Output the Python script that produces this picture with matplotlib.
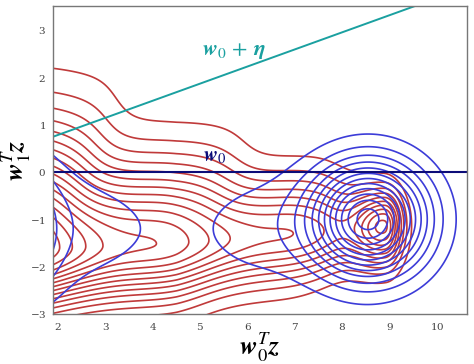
import numpy as np
import matplotlib
matplotlib.use('Agg')
import matplotlib.pyplot as plt

plt.rcParams.update({
    'mathtext.fontset': 'cm',
    'axes.formatter.use_mathtext': True,
    'font.family': 'serif',
})

# red density = ridge profile D(x) times a split gaussian across the ridge,
# whose widths step down from left to right
RED_RIDGE_MX = [1.0, 4.6, 7.4, 8.9]
RED_RIDGE_SXL = [1.7, 1.2, 1.0, 0.45]
RED_RIDGE_SXR = [1.7, 1.5, 0.8, 0.25]
RED_RIDGE_AMP = [18.1, 9.3, 5.8, 9.1]
RED_MY_X = [1.9, 4.5, 7.0, 8.9, 10.0]
RED_MY_Y = [-1.6, -1.5, -1.3, -1.15, -1.1]
RED_BREAKS = [3.55, 6.1, 8.1]
RED_DREF = [3.8, 2.4, 1.2]     # distance above ridge where each break sits at RED_BREAKS
RED_TILT = 0.45
RED_SU = [1.6, 1.15, 0.8, 0.5]
RED_SD = [0.85, 0.8, 0.68, 0.55]
RED_LEVELS = list(range(1, 17))

# blue: main mode, its tail, and a mass off to the left
BLUE_MX = [8.55, 6.3]
BLUE_SX = [0.825, 0.9]
BLUE_MY = [-1.0, -1.2]
BLUE_SY = [0.8, 0.9]
BLUE_AMP = [1.0, 0.09]
BLUE_LEFT_MX = [1.0, 1.0]
BLUE_LEFT_SX = [0.6, 2.5]
BLUE_LEFT_AMP = [0.4, 0.144]
BLUE_LEFT_MY = -1.2
BLUE_LEFT_SY = 1.0
BLUE_STEP = 0.0807
BLUE_NLEV = 12

LINE_B = 0.058     # w0 + eta line: y = b + k x
LINE_K = 0.361

C_RED = '#c03a3a'
C_BLUE = '#3c3cd8'
C_TEAL = '#1aa0a0'
C_NAVY = '#0c0c78'


def gauss1d(x, mx, sxl, sxr, amp):
    s = np.where(x < mx, sxl, sxr)
    return amp * np.exp(-0.5 * ((x - mx) / s) ** 2)


def stepped(x, dist, vals, w=0.3):
    out = np.full_like(x, vals[-1])
    for i, b in enumerate(RED_BREAKS):
        b_eff = b + RED_TILT * (dist - RED_DREF[i])
        out += (vals[i] - vals[i + 1]) / (1 + np.exp((x - b_eff) / w))
    return out


x = np.linspace(1.7, 10.8, 520)
y = np.linspace(-3.3, 3.7, 440)
X, Y = np.meshgrid(x, y)

ridge = sum(gauss1d(X, *p) for p in zip(RED_RIDGE_MX, RED_RIDGE_SXL,
                                       RED_RIDGE_SXR, RED_RIDGE_AMP))
my = np.interp(X, RED_MY_X, RED_MY_Y)
dist = np.clip(Y - my, 0, None)
sy = np.where(Y > my, stepped(X, dist, RED_SU), stepped(X, dist, RED_SD))
Zr = ridge * np.exp(-0.5 * ((Y - my) / sy) ** 2)

Zb = sum(a * np.exp(-0.5 * ((X - mx) / sx) ** 2 - 0.5 * ((Y - m) / s) ** 2)
         for mx, sx, m, s, a in zip(BLUE_MX, BLUE_SX, BLUE_MY, BLUE_SY, BLUE_AMP))
Zb = Zb + sum(gauss1d(X, mx, sx, sx, a) for mx, sx, a in
              zip(BLUE_LEFT_MX, BLUE_LEFT_SX, BLUE_LEFT_AMP)) \
    * np.exp(-0.5 * ((Y - BLUE_LEFT_MY) / BLUE_LEFT_SY) ** 2)

fig = plt.figure(figsize=(4.74, 3.64), dpi=100)
ax = fig.add_axes([0.1118, 0.1374, 0.8734, 0.8462])

ax.contour(X, Y, Zr, levels=RED_LEVELS, colors=C_RED, linewidths=1.2)
ax.contour(X, Y, Zb, levels=BLUE_STEP * np.arange(1, BLUE_NLEV + 1),
           colors=C_BLUE, linewidths=1.2)

lx = np.array([1.0, 11.0])
ax.plot(lx, LINE_B + LINE_K * lx, color=C_TEAL, lw=1.4)
ax.axhline(0, color=C_NAVY, lw=1.5)

ax.text(5.04, 2.57, r'$\boldsymbol{w}_0\,+\,\boldsymbol{\eta}$', color=C_TEAL,
        fontsize=16, va='center', ha='left', math_fontfamily='stix')
ax.text(5.05, 0.33, r'$\boldsymbol{w}_0$', color=C_NAVY,
        fontsize=15, va='center', ha='left', math_fontfamily='stix')

ax.set_xlim(1.89, 10.63)
ax.set_ylim(-3.0, 3.5)
ax.set_xticks([2, 3, 4, 5, 6, 7, 8, 9, 10])
ax.set_yticks([-3, -2, -1, 0, 1, 2, 3])
ax.tick_params(length=0, labelsize=7.5, labelcolor='#444444', pad=5)
for s in ax.spines.values():
    s.set_color('#777777')
    s.set_linewidth(1.0)

ax.set_xlabel(r'$\boldsymbol{w}_0^T\boldsymbol{z}$', fontsize=19,
              math_fontfamily='stix')
ax.set_ylabel(r'$\boldsymbol{w}_1^T\boldsymbol{z}$', fontsize=19,
              math_fontfamily='stix')
ax.xaxis.set_label_coords(0.5, -0.055)
ax.yaxis.set_label_coords(-0.048, 0.5)

fig.savefig('out.png', dpi=100)
